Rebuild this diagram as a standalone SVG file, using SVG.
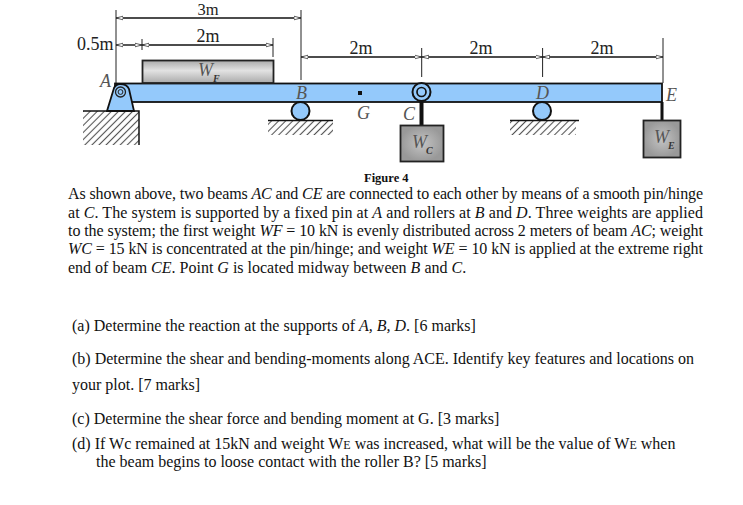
<svg xmlns="http://www.w3.org/2000/svg" width="743" height="505" viewBox="0 0 743 505">
<style>
text{font-family:"Liberation Serif","Times New Roman",serif;fill:#111}
.b{font-size:16px}
.dim{font-size:18px;fill:#222}
.lab{font-size:18px;font-style:italic;fill:#555}
.sub{font-size:10px;font-style:italic;font-weight:bold;fill:#333}
.d{stroke:#111;stroke-width:1.4;fill:none;marker-start:url(#as);marker-end:url(#ae)}
.t{stroke:#222;stroke-width:1;fill:none}
.g{stroke:#111;stroke-width:1.5;fill:none}
.beam{fill:#94c9fb;stroke:#111;stroke-width:1.8}
.box{stroke:#222;stroke-width:1.8}
</style>
<defs>
<pattern id="h" width="5" height="5" patternUnits="userSpaceOnUse" patternTransform="rotate(45)"><rect width="5" height="5" fill="#fff"/><line x1="2.500" y1="0" x2="2.500" y2="5" stroke="#555" stroke-width="1.100"/></pattern>
<linearGradient id="w" x1="0" x2="0" y1="0" y2="1"><stop offset="0" stop-color="#aaa"/><stop offset=".45" stop-color="#e2e2e2"/><stop offset="1" stop-color="#aaa"/></linearGradient>
<radialGradient id="w2"><stop offset="0" stop-color="#c4c4c4"/><stop offset="1" stop-color="#999"/></radialGradient>
<marker id="ae" markerWidth="8" markerHeight="6" refX="7" refY="3" orient="auto" markerUnits="userSpaceOnUse"><path d="M0 1.200L7 3L0 4.800Z" fill="#fff" stroke="#222" stroke-width=".7"/></marker>
<marker id="as" markerWidth="8" markerHeight="6" refX="1" refY="3" orient="auto" markerUnits="userSpaceOnUse"><path d="M8 1.200L1 3L8 4.800Z" fill="#fff" stroke="#222" stroke-width=".7"/></marker>
</defs>

<g id="connectors">
<path class="t" d="M116 10V83M301 10V80M142 39V50M273 38V57M421.700 48V77M542.600 48V77M663 38V83"/>
<path class="d" d="M116 18H301"/>
<path class="d" d="M116 45H142"/>
<path class="d" d="M142 45H273"/>
<path class="d" d="M301 57H421.700"/>
<path class="d" d="M421.700 57H542.600"/>
<path class="d" d="M542.600 57H663"/>
</g>

<g id="dimensions">
<text class="dim" x="208" y="15" text-anchor="middle" style="font-size:16.500px">3m</text>
<text class="dim" x="208" y="42" text-anchor="middle">2m</text>
<text class="dim" x="77" y="50">0.5m</text>
<text class="dim" x="361" y="54" text-anchor="middle">2m</text>
<text class="dim" x="481" y="54" text-anchor="middle">2m</text>
<text class="dim" x="602" y="54" text-anchor="middle">2m</text>
</g>

<g id="ground-a"><rect x="83" y="111" width="56" height="34" fill="url(#h)"/><path class="g" d="M83 111H139V145"/></g>
<g id="ground-b"><rect x="268" y="121" width="65" height="14" fill="url(#h)"/><path class="g" d="M268 120.500H333"/></g>
<g id="ground-d"><rect x="510" y="121" width="66" height="14" fill="url(#h)"/><path class="g" d="M510 120.500H579"/></g>

<g id="beam"><rect class="beam" x="115" y="83.500" width="547" height="18.500"/></g>

<g id="node-wf"><rect class="box" x="142.500" y="60.500" width="131" height="22.500" fill="url(#w)"/>
<text class="lab" x="198" y="76">W</text><text class="sub" x="213" y="82">F</text></g>

<g id="node-a"><path d="M107 111L114 88Q116 84 120 84Q127 84 129 89L134 111Z" fill="#94c9fb" stroke="#111" stroke-width="1.800"/>
<circle cx="120.500" cy="92" r="5" fill="#94c9fb" stroke="#222" stroke-width="1.300"/><circle cx="120.500" cy="92" r="2.400" fill="none" stroke="#222"/>
<text class="lab" x="100" y="87">A</text></g>

<g id="node-b"><circle cx="300.500" cy="111" r="9" fill="#94c9fb" stroke="#111" stroke-width="2"/>
<text class="lab" x="296" y="99">B</text></g>

<g id="node-g"><rect x="358" y="91" width="4" height="4" fill="#111"/><text class="lab" x="357" y="119">G</text></g>

<g id="node-c"><rect x="419.500" y="102" width="4" height="24" fill="#111"/>
<circle cx="421.500" cy="92" r="9" fill="#94c9fb" stroke="#111" stroke-width="2"/><circle cx="421.500" cy="92" r="4.500" fill="none" stroke="#111" stroke-width="1.700"/>
<text class="lab" x="403" y="120">C</text>
<rect class="box" x="400.500" y="125.500" width="43" height="36" fill="url(#w2)"/>
<text class="lab" x="412" y="148">W</text><text class="sub" x="426" y="154">C</text></g>

<g id="node-d"><circle cx="542" cy="111" r="9" fill="#94c9fb" stroke="#111" stroke-width="2"/>
<text class="lab" x="536" y="99">D</text></g>

<g id="node-e"><rect x="660.500" y="102" width="3" height="19" fill="#111"/>
<text class="lab" x="666" y="101">E</text>
<rect class="box" x="643.500" y="120.500" width="37" height="37" fill="url(#w2)"/>
<text class="lab" x="654" y="143">W</text><text class="sub" x="668" y="149">E</text></g>

<g id="text">
<text x="364" y="181.500" font-size="12.500" font-weight="bold">Figure 4</text>
<text class="b" x="68" y="199" textLength="635">As shown above, two beams <tspan font-style="italic">AC</tspan> and <tspan font-style="italic">CE</tspan> are connected to each other by means of a smooth pin/hinge</text>
<text class="b" x="68" y="217.500" textLength="635">at <tspan font-style="italic">C</tspan>. The system is supported by a fixed pin at <tspan font-style="italic">A</tspan> and rollers at <tspan font-style="italic">B</tspan> and <tspan font-style="italic">D</tspan>. Three weights are applied</text>
<text class="b" x="68" y="236" textLength="635">to the system; the first weight <tspan font-style="italic">WF</tspan> = 10 kN is evenly distributed across 2 meters of beam <tspan font-style="italic">AC</tspan>; weight</text>
<text class="b" x="68" y="254" textLength="635"><tspan font-style="italic">WC</tspan> = 15 kN is concentrated at the pin/hinge; and weight <tspan font-style="italic">WE</tspan> = 10 kN is applied at the extreme right</text>
<text class="b" x="68" y="273">end of beam <tspan font-style="italic">CE</tspan>. Point <tspan font-style="italic">G</tspan> is located midway between <tspan font-style="italic">B</tspan> and <tspan font-style="italic">C</tspan>.</text>
<text class="b" x="72" y="331">(a) Determine the reaction at the supports of <tspan font-style="italic">A, B, D</tspan>. [6 marks]</text>
<text class="b" x="72" y="364">(b) Determine the shear and bending-moments along ACE. Identify key features and locations on</text>
<text class="b" x="72" y="390">your plot. [7 marks]</text>
<text class="b" x="72" y="424">(c) Determine the shear force and bending moment at G. [3 marks]</text>
<text class="b" x="72" y="449">(d) If Wc remained at 15kN and weight W<tspan font-size="12">E</tspan> was increased, what will be the value of W<tspan font-size="12">E</tspan> when</text>
<text class="b" x="96" y="467">the beam begins to loose contact with the roller B? [5 marks]</text>
</g>
</svg>
